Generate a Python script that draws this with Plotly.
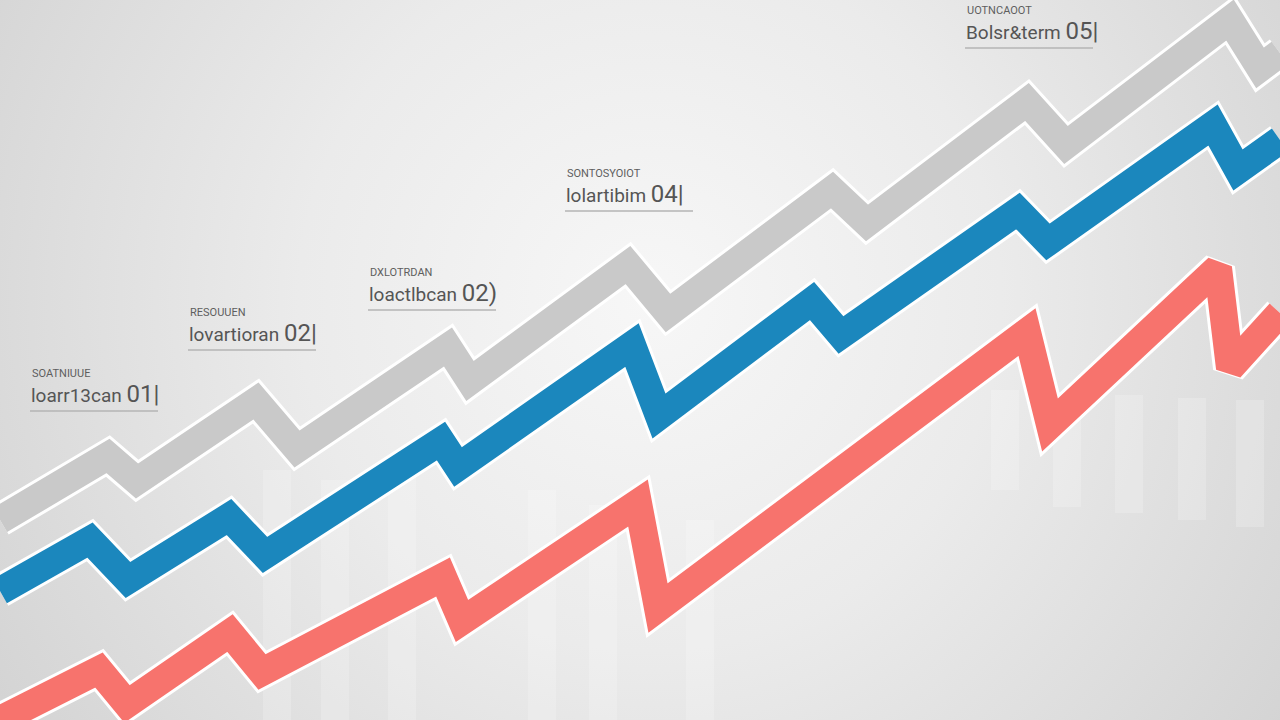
import base64
import plotly.graph_objects as go

# ---- data (x in px-like units, values = height from bottom) ----
gray_x = [0, 108, 137, 256, 297, 448, 470, 628, 668, 832, 867, 1027, 1066, 1230, 1260, 1280]
gray_v = [200, 264, 239, 319, 271, 373, 339, 455, 407, 530, 497, 618, 575, 700, 652, 667]

blue_x = [0, 90, 128, 229, 265, 441, 458, 632, 659, 812, 841, 1018, 1048, 1213, 1238, 1280]
blue_v = [129, 180, 140, 203, 165, 279, 253, 375, 304, 419, 385, 509, 478, 595, 550, 580]

red_x = [0, 99, 127, 230, 262, 443, 462, 638, 658, 1027, 1050, 1218, 1230, 1280]
red_v = [0, 50, 16, 87, 48, 143, 99, 217, 112, 388, 295, 452, 352, 407]

# faint background bars
bar_x = [277, 335, 402, 542, 603, 700, 1005, 1067, 1129, 1192, 1250]
bar_top = [250, 240, 260, 230, 215, 200, 330, 328, 325, 322, 320]
bar_base = [0, 0, 0, 0, 0, 0, 230, 213, 207, 200, 193]

# labels
small_labels = ["SOATNIUUE", "RESOUUEN", "DXLOTRDAN", "SONTOSYOIOT", "UOTNCAOOT"]
main_words = ["loarr13can", "lovartioran", "loactlbcan", "lolartibim", "Bolsr&term"]
main_nums = ["01|", "02|", "02)", "04|", "05|"]
label_x = [30, 188, 368, 565, 965]
label_v = [347, 408, 448, 547, 710]

GRAY = "#c9c9c9"
BLUE = "#1b87bd"
RED = "#f7736d"

fig = go.Figure()

bar_h = [t - b for t, b in zip(bar_top, bar_base)]
fig.add_trace(go.Bar(x=bar_x, y=bar_h, base=bar_base, width=28,
                     marker=dict(color="rgba(255,255,255,0.2)", line=dict(width=0)),
                     hoverinfo="skip", showlegend=False))

for xs, vs, col in [(gray_x, gray_v, GRAY), (blue_x, blue_v, BLUE), (red_x, red_v, RED)]:
    fig.add_trace(go.Scatter(x=xs, y=vs, mode="lines",
                             line=dict(color="white", width=34),
                             hoverinfo="skip", showlegend=False))
    fig.add_trace(go.Scatter(x=xs, y=vs, mode="lines",
                             line=dict(color=col, width=28),
                             hoverinfo="skip", showlegend=False))

annotations = []
shapes = []
for sl, mw, mn, lx, lv in zip(small_labels, main_words, main_nums, label_x, label_v):
    annotations.append(dict(x=lx, y=lv, xref="x", yref="y", text=sl, showarrow=False,
                            xanchor="left", yanchor="middle",
                            font=dict(family="Roboto, sans-serif",
                                      size=11, color="#5e5e5e")))
    annotations.append(dict(x=lx - 1, y=lv - 21, xref="x", yref="y",
                            text=f"{mw} <span style='font-size:24px'>{mn}</span>",
                            showarrow=False, xanchor="left", yanchor="middle",
                            font=dict(family="Roboto, sans-serif",
                                      size=19, color="#555555")))
    shapes.append(dict(type="line", xref="x", yref="y", x0=lx, x1=lx + 128,
                       y0=lv - 38, y1=lv - 38,
                       line=dict(color="#b4b4b4", width=1.5)))

svg = ("<svg xmlns='http://www.w3.org/2000/svg' width='1280' height='720'>"
       "<defs><radialGradient id='g' cx='650' cy='300' r='780' gradientUnits='userSpaceOnUse'>"
       "<stop offset='0' stop-color='#f7f7f7'/><stop offset='0.45' stop-color='#ebebeb'/>"
       "<stop offset='1' stop-color='#d3d3d3'/></radialGradient></defs>"
       "<rect width='1280' height='720' fill='url(#g)'/></svg>")
src = "data:image/svg+xml;base64," + base64.b64encode(svg.encode()).decode()

fig.update_layout(
    width=1280, height=720,
    margin=dict(l=0, r=0, t=0, b=0),
    paper_bgcolor="#e6e6e6",
    plot_bgcolor="rgba(0,0,0,0)",
    xaxis=dict(range=[0, 1280], visible=False, fixedrange=True),
    yaxis=dict(range=[0, 720], visible=False, fixedrange=True),
    showlegend=False,
    annotations=annotations,
    shapes=shapes,
    images=[dict(source=src, xref="paper", yref="paper", x=0, y=1, sizex=1, sizey=1,
                 sizing="stretch", layer="below", xanchor="left", yanchor="top")],
)

fig.write_html("out.html", config={"displayModeBar": False},
               post_script="document.body.style.margin='0';document.body.style.overflow='hidden';")
